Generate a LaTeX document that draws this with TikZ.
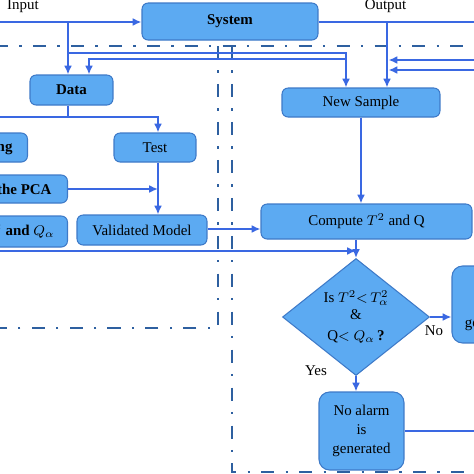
\documentclass[tikz,border=0pt]{standalone}
\usepackage{fontspec}
\setmainfont{Liberation Serif}
\usetikzlibrary{arrows.meta,shapes.geometric}

\definecolor{boxfill}{RGB}{92,170,242}
\definecolor{boxline}{RGB}{62,122,200}
\definecolor{flow}{RGB}{58,104,226}
\definecolor{frame}{RGB}{46,96,160}

\begin{document}
\begin{tikzpicture}[x=0.02cm,y=-0.02cm,
                    block/.style={draw=boxline,fill=boxfill,line width=0.6pt,rounded corners=3.5pt,
                                  inner sep=0pt,align=center,font=\fontsize{8.5}{11}\selectfont},
                    boldblock/.style={block,font=\fontsize{8.5}{11}\selectfont\bfseries},
                    decision/.style={block,diamond,rounded corners=0pt,shape aspect=1.25},
                    flowline/.style={flow,line width=1.1pt},
                    flowarrow/.style={flowline,-{Latex[length=5pt,width=4.5pt]}},
                    region/.style={frame,line width=1.5pt,dash pattern=on 7.4pt off 6.4pt on 1.4pt off 6.4pt},
                    tag/.style={font=\fontsize{8.5}{10}\selectfont,inner sep=0pt}]
  \useasboundingbox (0,0) rectangle (474,474);
  \clip (0,0) rectangle (474,474);

  % dash-dot frames of the two stages
  \draw[region] (-5,46) -- (480,46);
  \draw[region] (218,46) -- (218,328) -- (-5,328);
  \draw[region] (232,46) -- (232,472) -- (480,472);

  % offline stage
  \node[boldblock,minimum width=3.52cm,minimum height=0.74cm] (sys) at (230,21.5) {System};
  \node[boldblock,minimum width=1.66cm,minimum height=0.6cm] (data) at (71.5,90) {Data};
  \node[boldblock,minimum height=0.58cm,inner xsep=0.3cm,anchor=east] (train) at (28,147.5) {Training};
  \node[block,minimum width=1.64cm,minimum height=0.58cm] (test) at (155,147.5) {Test};
  \node[boldblock,minimum height=0.56cm,inner xsep=0.32cm,anchor=east] (pca) at (68,189) {Build the PCA};
  \node[boldblock,minimum height=0.62cm,inner xsep=0.26cm,anchor=east] (lim) at (68,231.5) {Compute $T^2_\alpha$ and $Q_\alpha$};
  \node[block,minimum width=2.6cm,minimum height=0.6cm] (valid) at (142,230) {Validated Model};

  % online stage
  \node[block,minimum width=3.16cm,minimum height=0.58cm] (news) at (361,102.5) {New Sample};
  \node[block,minimum width=4.22cm,minimum height=0.7cm] (comp) at (366.5,221.5) {Compute $T^2$ and Q};
  \node[decision,minimum width=2.94cm,minimum height=2.34cm] (dec) at (356,317)
       {Is $T^2{<}\,T^2_\alpha$\\[-1pt] \&\\[1pt] Q$<$ $Q_\alpha$\,\textbf{?}};
  \node[block,minimum width=1.68cm,minimum height=1.54cm,rounded corners=6pt,
        font=\fontsize{8.5}{11.3}\selectfont] (alarm) at (494,304.5) {Alarm\\is\\generated};
  \node[block,minimum width=1.7cm,minimum height=1.56cm,rounded corners=6pt,
        font=\fontsize{8.5}{10.8}\selectfont] (noalarm) at (361.5,431) {No alarm\\is\\generated};

  \node[tag,anchor=base] (input) at (23,9) {Input};
  \node[tag,anchor=base] (output) at (385.5,9) {Output};
  \node[tag] (no) at ([xshift=0.08cm,yshift=-0.28cm]dec.east) {No};
  \node[tag] (yes) at ([xshift=-0.8cm,yshift=0.1cm]dec.south) {Yes};

  \coordinate (inL) at (-5,22);
  \coordinate (inJ) at (68,22);
  \coordinate (tapA) at (68,53);
  \coordinate (back) at (346,59);
  \coordinate (outJ) at (387,22);
  \coordinate (outR) at (480,22);
  \coordinate (fbA) at (480,60);
  \coordinate (fbB) at (480,70);
  \coordinate (split) at (68,117);
  \coordinate (splitL) at (-5,117);
  \coordinate (tv) at ([xshift=0.06cm]test.south);
  \coordinate (merge) at ([yshift=0.14cm]dec.north);
  \coordinate (noR) at (480,431);

  % connectors
  \draw[flowarrow] (inL) -- (sys.west |- inL);
  \draw[flowarrow] (inJ) -- (inJ |- data.north);
  \draw[flowarrow] (tapA) -| ([xshift=-0.3cm]news.north);
  \draw[flowarrow] (back) -| ([xshift=0.35cm]data.north);
  \draw[flowline] (sys.east |- outJ) -- (outR);
  \draw[flowarrow] (outJ) -- (outJ |- news.north);
  \draw[flowarrow] (fbA) -- ([xshift=0.03cm]fbA -| outJ);
  \draw[flowarrow] (fbB) -- ([xshift=0.03cm]fbB -| outJ);
  \draw[flowline] (data.south -| split) -- (split);
  \draw[flowarrow] (splitL) -| ([xshift=0.06cm]test.north);
  \draw[flowarrow] (tv) -- (tv |- valid.north);
  \draw[flowarrow] (pca.east) -- (pca.east -| tv);
  \draw[flowarrow] ([yshift=0.02cm]valid.east) -- ([yshift=0.02cm]valid.east -| comp.west);
  \draw[flowarrow] ([xshift=0.04cm]lim.south west) |- (merge);
  \draw[flowarrow] (news.south) -- (news.south |- comp.north);
  \draw[flowarrow] (dec.north |- comp.south) -- (dec.north);
  \draw[flowarrow] (dec.east) -- (dec.east -| alarm.west);
  \draw[flowarrow] (dec.south) -- (dec.south |- noalarm.north);
  \draw[flowline] (noalarm.east) -- (noalarm.east -| noR);
\end{tikzpicture}
\end{document}
